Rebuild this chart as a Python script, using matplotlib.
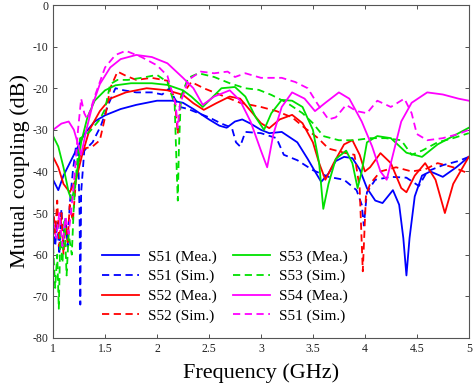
import matplotlib
matplotlib.use("Agg")
import matplotlib.pyplot as plt

plt.rcParams['font.family'] = ['Liberation Serif', 'DejaVu Serif']
plt.rcParams['axes.unicode_minus'] = False

# ---- data (frequency in GHz, coupling in dB) ----
s51_mea_f = [1.00, 1.05, 1.10, 1.20, 1.30, 1.40, 1.50, 1.65, 1.80, 2.00, 2.15, 2.25, 2.35, 2.50, 2.60, 2.67,
             2.75, 2.82, 2.90, 3.00, 3.08, 3.20, 3.35, 3.45, 3.52, 3.58, 3.65, 3.72, 3.80, 3.88, 3.95, 4.02,
             4.10, 4.17, 4.27, 4.33, 4.37, 4.40, 4.43, 4.48, 4.55, 4.63, 4.75, 4.88, 5.00]
s51_mea_db = [-42, -44.5, -41, -36, -31, -28, -26.5, -25, -24, -23, -23, -23.5, -25, -27.5, -29, -29.5,
              -28, -27.5, -28.5, -30, -30.8, -30.5, -33, -37, -40, -42.5, -40.5, -37.5, -36.5, -36.8, -39.5, -44,
              -47, -47.6, -44.5, -48, -56, -65, -56, -46, -41, -40, -41.3, -39, -36.5]

s51_sim_f = [1.00, 1.02, 1.04, 1.06, 1.08, 1.10, 1.12, 1.14, 1.16, 1.19, 1.22, 1.24, 1.255, 1.262, 1.27, 1.30,
             1.38, 1.46, 1.53, 1.60, 1.68, 1.80, 1.95, 2.05, 2.12, 2.17, 2.22, 2.30, 2.40, 2.50, 2.62, 2.72,
             2.76, 2.80, 2.85, 3.00, 3.15, 3.22, 3.35, 3.50, 3.65, 3.80, 3.92, 3.97, 3.99, 4.02, 4.10, 4.25,
             4.40, 4.52, 4.60, 4.75, 4.90, 5.00]
s51_sim_db = [-50, -58, -52, -60, -49, -57, -51, -58, -48, -40, -34, -34.5, -50, -72, -45, -35,
              -33, -29, -24, -20, -20.5, -21, -21, -21.5, -20, -22.5, -24.5, -25, -26, -27, -28.5, -29.5,
              -33, -34, -30.5, -30.8, -32, -36, -37.3, -39.7, -41.3, -42, -44.5, -48, -53, -45, -42, -41.3,
              -41.5, -43.5, -40, -38.5, -37.5, -36.5]

s52_mea_f = [1.00, 1.05, 1.10, 1.16, 1.22, 1.28, 1.35, 1.45, 1.55, 1.70, 1.90, 2.10, 2.25, 2.35, 2.45, 2.57,
             2.70, 2.80, 2.92, 3.00, 3.08, 3.18, 3.30, 3.40, 3.50, 3.56, 3.62, 3.70, 3.80, 3.88, 3.95, 4.00,
             4.05, 4.15, 4.25, 4.35, 4.40, 4.48, 4.58, 4.68, 4.77, 4.85, 5.00]
s52_mea_db = [-36.5, -39, -43, -45, -42, -36, -30, -25.5, -22.5, -21, -20, -20.5, -21.6, -23.6, -25.2, -23.6,
              -22, -22.5, -26, -28.4, -29.6, -27.5, -26.4, -28.4, -33, -38, -42, -38, -33.5, -32.5, -36, -40,
              -39, -35.6, -38, -44, -45, -41, -38, -42, -50, -43, -36.5]

s52_sim_f = [1.00, 1.02, 1.04, 1.06, 1.08, 1.10, 1.12, 1.14, 1.16, 1.19, 1.22, 1.26, 1.30, 1.38, 1.45, 1.50,
             1.55, 1.62, 1.70, 1.80, 1.95, 2.10, 2.17, 2.20, 2.23, 2.33, 2.45, 2.60, 2.80, 3.00, 3.15, 3.30,
             3.42, 3.55, 3.65, 3.80, 3.90, 3.95, 3.98, 4.01, 4.05, 4.15, 4.30, 4.45, 4.58, 4.70, 4.85, 5.00]
s52_sim_db = [-48, -55, -47, -58, -50, -60, -52, -57, -48, -52, -42, -36, -34.5, -34, -32.5, -27,
              -20, -16, -17, -18, -17.5, -18.2, -22.5, -31, -22, -18.5, -20, -21.5, -23.5, -24.5, -25.5, -27,
              -29.5, -32, -34.5, -35.5, -36, -44, -64, -46, -43, -40, -39, -40, -39.5, -38, -39, -40.5]

s53_mea_f = [1.00, 1.05, 1.10, 1.15, 1.18, 1.22, 1.27, 1.33, 1.40, 1.50, 1.60, 1.75, 1.95, 2.10, 2.25, 2.33,
             2.44, 2.52, 2.62, 2.75, 2.85, 2.95, 3.03, 3.10, 3.20, 3.30, 3.40, 3.50, 3.56, 3.60, 3.65, 3.72,
             3.82, 3.88, 3.93, 3.97, 4.02, 4.12, 4.25, 4.40, 4.55, 4.70, 4.85, 5.00]
s53_mea_db = [-31.5, -34, -39, -45, -47, -42, -33, -27, -23, -20.5, -19.3, -18.8, -18.8, -19.2, -20.5, -22,
              -24.5, -22.5, -20, -19.7, -22, -27, -30, -26, -22.8, -23, -24.5, -30, -38, -49, -43, -37,
              -35, -38, -44, -40, -33, -31.5, -32, -35.5, -36.5, -33.5, -31.5, -29.5]

s53_sim_f = [1.00, 1.02, 1.04, 1.055, 1.07, 1.09, 1.11, 1.13, 1.15, 1.18, 1.20, 1.23, 1.26, 1.30, 1.35, 1.40,
             1.45, 1.50, 1.55, 1.62, 1.72, 1.85, 2.00, 2.10, 2.17, 2.19, 2.20, 2.21, 2.23, 2.30, 2.40, 2.55,
             2.70, 2.85, 2.98, 3.10, 3.25, 3.40, 3.50, 3.60, 3.75, 3.90, 4.05, 4.20, 4.35, 4.45, 4.55, 4.70,
             4.85, 5.00]
s53_sim_db = [-58, -68, -60, -73, -55, -62, -52, -65, -55, -60, -48, -38, -32, -31.5, -30.5, -29,
              -27.5, -25, -19, -18, -18, -17.5, -16.8, -18.5, -24, -40, -47, -35, -22, -17.5, -16.4, -17.3,
              -18.8, -20, -20.4, -21.6, -23.5, -26, -28.4, -31.5, -32.5, -32.5, -32, -32, -32.5, -36, -35, -33,
              -32, -30.8]

s54_mea_f = [1.00, 1.08, 1.15, 1.20, 1.27, 1.32, 1.38, 1.45, 1.55, 1.65, 1.80, 1.95, 2.10, 2.25, 2.35, 2.44,
             2.55, 2.70, 2.80, 2.90, 3.00, 3.06, 3.12, 3.20, 3.30, 3.42, 3.52, 3.62, 3.75, 3.85, 3.97, 4.07,
             4.15, 4.21, 4.28, 4.35, 4.45, 4.60, 4.75, 4.90, 5.00]
s54_mea_db = [-30, -28.5, -28, -30, -36, -30, -24, -19, -15, -13, -12, -12.5, -14, -17.5, -20, -24,
              -22, -20.5, -23, -28, -35, -39, -31, -24.5, -21, -22.5, -25.5, -23.5, -21, -22.5, -28, -34,
              -40, -42, -35, -28, -23.5, -21, -21.5, -22.5, -23]

s54_sim_f = [1.00, 1.03, 1.06, 1.09, 1.12, 1.15, 1.18, 1.21, 1.24, 1.27, 1.30, 1.33, 1.40, 1.50, 1.60, 1.70,
             1.85, 2.00, 2.10, 2.18, 2.20, 2.22, 2.30, 2.42, 2.55, 2.68, 2.75, 2.85, 3.00, 3.20, 3.33, 3.45,
             3.55, 3.65, 3.72, 3.82, 3.92, 4.02, 4.12, 4.25, 4.38, 4.45, 4.50, 4.60, 4.75, 4.90, 5.00]
s54_sim_db = [-52, -56, -50, -58, -51, -55, -48, -40, -30, -22.5, -26, -27.5, -22, -15, -12, -11,
              -12.5, -14.5, -17, -24, -29.5, -24, -18, -16, -16.4, -16, -17.3, -16.4, -17.5, -17.5, -18.5, -20,
              -24, -27.5, -27, -24, -25.5, -26, -23, -24.5, -22.5, -26, -31, -32.5, -32, -31, -30]

labels = ['S51 (Mea.)', 'S51 (Sim.)', 'S52 (Mea.)', 'S52 (Sim.)',
          'S53 (Mea.)', 'S53 (Sim.)', 'S54 (Mea.)', 'S51 (Sim.)']
xticks = [1, 1.5, 2, 2.5, 3, 3.5, 4, 4.5, 5]
xticklabels = ['1', '1.5', '2', '2.5', '3', '3.5', '4', '4.5', '5']
yticks = [0, -10, -20, -30, -40, -50, -60, -70, -80]

series = [
    (s51_mea_f, s51_mea_db, '#0000ff', '-'),
    (s51_sim_f, s51_sim_db, '#0000ff', '--'),
    (s52_mea_f, s52_mea_db, '#ff0000', '-'),
    (s52_sim_f, s52_sim_db, '#ff0000', '--'),
    (s53_mea_f, s53_mea_db, '#00e000', '-'),
    (s53_sim_f, s53_sim_db, '#00e000', '--'),
    (s54_mea_f, s54_mea_db, '#ff00ff', '-'),
    (s54_sim_f, s54_sim_db, '#ff00ff', '--'),
]

fig = plt.figure(figsize=(4.74, 3.87), dpi=100)
ax = fig.add_axes([0.112, 0.127, 0.877, 0.860])

for (f, d, c, ls), lab in zip(series, labels):
    kw = dict(color=c, lw=1.3, label=lab)
    if ls == '--':
        kw['dashes'] = (4, 2.5)
    ax.plot(f, d, **kw)

ax.set_xlim(1, 5)
ax.set_ylim(-80, 0)
ax.set_xticks(xticks)
ax.set_xticklabels(xticklabels)
ax.set_yticks(yticks)
ax.set_yticklabels([str(v) for v in yticks])
ax.tick_params(direction='in', top=True, right=True, labelsize=8.5, length=3, width=0.6,
               colors='#333333', labelcolor='#222222')
for s in ax.spines.values():
    s.set_color('#555555')
    s.set_linewidth(0.8)

ax.set_xlabel('Frequency (GHz)', fontsize=16, labelpad=6)
ax.set_ylabel('Mutual coupling (dB)', fontsize=16, labelpad=2)

ax.legend(loc='lower left', bbox_to_anchor=(0.103, 0.027), ncol=2, frameon=False,
          fontsize=11, handlelength=2.4, handletextpad=0.6, labelspacing=0.38,
          columnspacing=1.1, borderaxespad=0, borderpad=0.4)

fig.savefig('out.png', dpi=100)
